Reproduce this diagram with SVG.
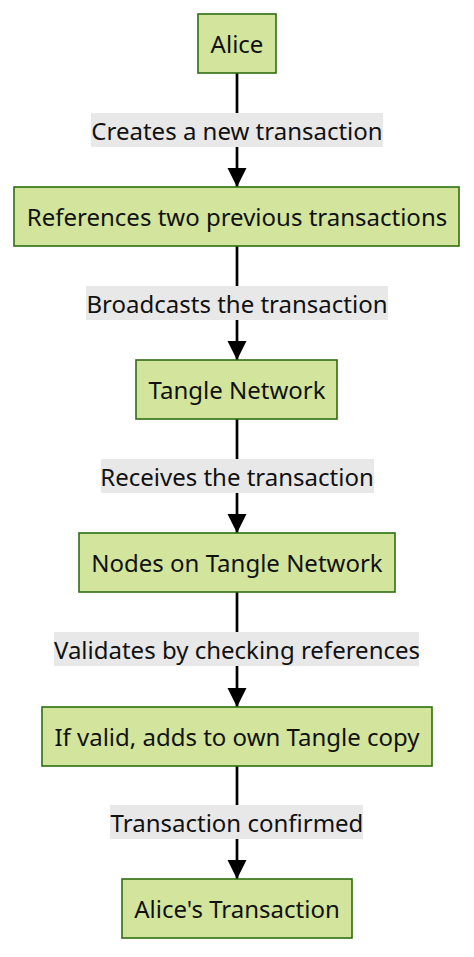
<svg xmlns="http://www.w3.org/2000/svg" width="474" height="957" viewBox="0 0 474 957">
<style>
.node rect{fill:#d3e59d;stroke:#2f6d12;stroke-width:1.6}
text{font-family:"Noto Sans","Open Sans",sans-serif;font-size:24px;fill:#111;text-anchor:middle;dominant-baseline:central}
.lbl rect{fill:#e8e8e8}
.edge{stroke:#000;stroke-width:2.7;fill:none}
</style>
<defs>
<marker id="arr" markerUnits="userSpaceOnUse" markerWidth="20" markerHeight="20" refX="19" refY="9.5" orient="auto">
<path d="M0,0 L19,9.5 L0,19 Z" fill="#000"/>
</marker>
</defs>
<rect width="474" height="957" fill="#fff"/>
<g id="connectors">
<path class="edge" d="M237,73 V187" marker-end="url(#arr)"/>
<path class="edge" d="M237,246 V360" marker-end="url(#arr)"/>
<path class="edge" d="M237,419 V533" marker-end="url(#arr)"/>
<path class="edge" d="M237,592 V707" marker-end="url(#arr)"/>
<path class="edge" d="M237,766 V879" marker-end="url(#arr)"/>
<g class="lbl"><rect x="91" y="113" width="292" height="34"/><text x="237" y="130">Creates a new transaction</text></g>
<g class="lbl"><rect x="86" y="286" width="302" height="34"/><text x="237" y="303">Broadcasts the transaction</text></g>
<g class="lbl"><rect x="101" y="459" width="273" height="34"/><text x="237" y="476">Receives the transaction</text></g>
<g class="lbl"><rect x="54" y="632" width="365" height="34"/><text x="237" y="649">Validates by checking references</text></g>
<g class="lbl"><rect x="110" y="805" width="253" height="34"/><text x="237" y="822">Transaction confirmed</text></g>
</g>
<g id="n1" class="node"><rect x="198" y="14" width="78" height="59"/><text x="237" y="43.5">Alice</text></g>
<g id="n2" class="node"><rect x="14" y="187" width="445" height="59"/><text x="237" y="216.5">References two previous transactions</text></g>
<g id="n3" class="node"><rect x="136" y="360" width="201" height="59"/><text x="237" y="389.5">Tangle Network</text></g>
<g id="n4" class="node"><rect x="79" y="533" width="316" height="59"/><text x="237" y="562.5">Nodes on Tangle Network</text></g>
<g id="n5" class="node"><rect x="42" y="707" width="390" height="59"/><text x="237" y="736.5">If valid, adds to own Tangle copy</text></g>
<g id="n6" class="node"><rect x="122" y="879" width="230" height="59"/><text x="237" y="908.5">Alice's Transaction</text></g>
</svg>
